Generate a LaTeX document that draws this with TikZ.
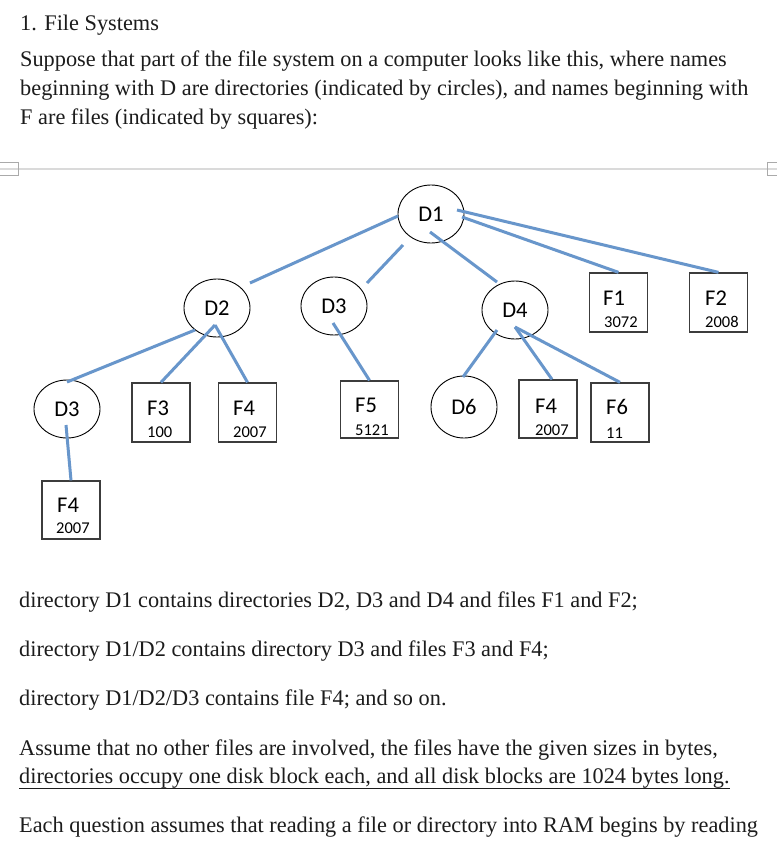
\documentclass[tikz,border=0pt]{standalone}
\usepackage{fontspec}
\setmainfont{Liberation Serif}
\newfontfamily\calib{Carlito}
\usetikzlibrary{shapes.geometric}
\definecolor{linkblue}{RGB}{104,150,203}
\definecolor{txt}{RGB}{28,28,28}
\definecolor{sepgray}{RGB}{218,218,218}
\definecolor{brkgray}{RGB}{170,170,170}
\definecolor{boxgray}{RGB}{60,60,60}
\tikzset{
  body/.style={anchor=base west,inner sep=0pt,text=txt,font=\fontsize{22.3}{26}\selectfont},
  dir/.style={ellipse,draw=black,line width=0.9pt,inner sep=0pt,minimum width=66pt,minimum height=58pt,font=\calib\fontsize{22.5}{26}\selectfont},
  filebox/.style={rectangle,draw=boxgray,line width=1.3pt,inner sep=0pt,minimum width=58pt,minimum height=59pt},
  fname/.style={anchor=base west,inner sep=0pt,font=\calib\fontsize{22.5}{26}\selectfont},
  fsize/.style={anchor=base west,inner sep=0pt,font=\calib\fontsize{16.5}{20}\selectfont},
  link/.style={draw=linkblue,line width=3pt}
}
\begin{document}
\begin{tikzpicture}[x=1pt,y=-1pt]
\useasboundingbox (0,0) rectangle (777,841);
\fill[white] (0,0) rectangle (777,841);

% top text
\node[body] (t0) at (20,30) {1. File Systems};
\node[body] (t1) at (20,66) {Suppose that part of the file system on a computer looks like this, where names};
\node[body] (t2) at (20,95) {beginning with D are directories (indicated by circles), and names beginning with};
\node[body] (t3) at (20,124) {F are files (indicated by squares):};

% separator
\draw[sepgray,line width=1.5pt] (0,169) -- (777,169);
\draw[brkgray,line width=0.8pt] (0,162) -- (18,162) -- (18,175) -- (0,175);
\draw[brkgray,line width=0.8pt] (777,162) -- (767,162) -- (767,175) -- (777,175);

% directories
\node[dir] (D1) at (431,214) {D1};
\node[dir] (D2) at (217,308) {D2};
\node[dir] (D3) at (334,306) {D3};
\node[dir] (D4) at (515,310) {D4};
\node[dir] (D3b) at (67,409) {D3};
\node[dir,minimum height=62pt] (D6) at (464,407) {D6};

% files
\node[filebox] (F1) at (618.5,302.5) {};
\node[filebox] (F2) at (718.5,302.5) {};
\node[filebox] (F3) at (161,412.5) {};
\node[filebox] (F4) at (247.5,412.5) {};
\node[filebox,minimum height=57pt] (F5) at (369.5,409.5) {};
\node[filebox,minimum height=58pt] (F4b) at (548,409) {};
\node[filebox] (F6) at (620,412.5) {};
\node[filebox,minimum height=58pt] (F4c) at (71,510) {};

\node[fname] (F1n) at (603,305) {F1};
\node[fsize] (F1s) at (604,327) {3072};
\node[fname] (F2n) at (705,305) {F2};
\node[fsize] (F2s) at (705,327) {2008};
\node[fname] (F3n) at (147,415) {F3};
\node[fsize] (F3s) at (147,437) {100};
\node[fname] (F4n) at (233,415) {F4};
\node[fsize] (F4s) at (233,437) {2007};
\node[fname] (F5n) at (355,412) {F5};
\node[fsize] (F5s) at (355,435) {5121};
\node[fname] (F4bn) at (535,413) {F4};
\node[fsize] (F4bs) at (535,435) {2007};
\node[fname] (F6n) at (606,414) {F6};
\node[fsize] (F6s) at (606,438) {11};
\node[fname] (F4cn) at (57,512) {F4};
\node[fsize] (F4cs) at (56,533) {2007};

% connectors
\draw[link] ([shift={(-33,2)}]D1.center) -- ([shift={(33,-25)}]D2.center);
\draw[link] ([shift={(-28,31)}]D1.center) -- ([shift={(33,-23)}]D3.center);
\draw[link] ([shift={(-1,18)}]D1.center) -- ([shift={(-18,-28)}]D4.center);
\draw[link] ([shift={(31,3)}]D1.center) -- (F1.north);
\draw[link] ([shift={(26,-4)}]D1.center) -- (F2.north);
\draw[link] ([shift={(-22,22)}]D2.center) -- ([shift={(0,-27)}]D3b.center);
\draw[link] ([shift={(-2,17)}]D2.center) -- (F3.north);
\draw[link] ([shift={(-2,17)}]D2.center) -- (F4.north);
\draw[link] ([shift={(-1,17)}]D3.center) -- (F5.north);
\draw[link] ([shift={(-1,16)}]D3b.center) -- (F4c.north);
\draw[link] ([shift={(-18,20)}]D4.center) -- ([shift={(-1,-30)}]D6.center);
\draw[link] ([shift={(0,17)}]D4.center) -- ([shift={(4,0)}]F4b.north);
\draw[link] ([shift={(0,17)}]D4.center) -- (F6.north);

% bottom text
\node[body] (b1) at (19,607) {directory D1 contains directories D2, D3 and D4 and files F1 and F2;};
\node[body] (b2) at (19,656) {directory D1/D2 contains directory D3 and files F3 and F4;};
\node[body] (b3) at (19,705) {directory D1/D2/D3 contains file F4; and so on.};
\node[body] (b4) at (19,755) {Assume that no other files are involved, the files have the given sizes in bytes,};
\node[body] (b5) at (19,783) {directories occupy one disk block each, and all disk blocks are 1024 bytes long.};
\draw[txt,line width=1pt] (b5.west |- 0,788) -- (b5.east |- 0,788);
\node[body] (b6) at (19,832) {Each question assumes that reading a file or directory into RAM begins by reading};
\end{tikzpicture}
\end{document}
